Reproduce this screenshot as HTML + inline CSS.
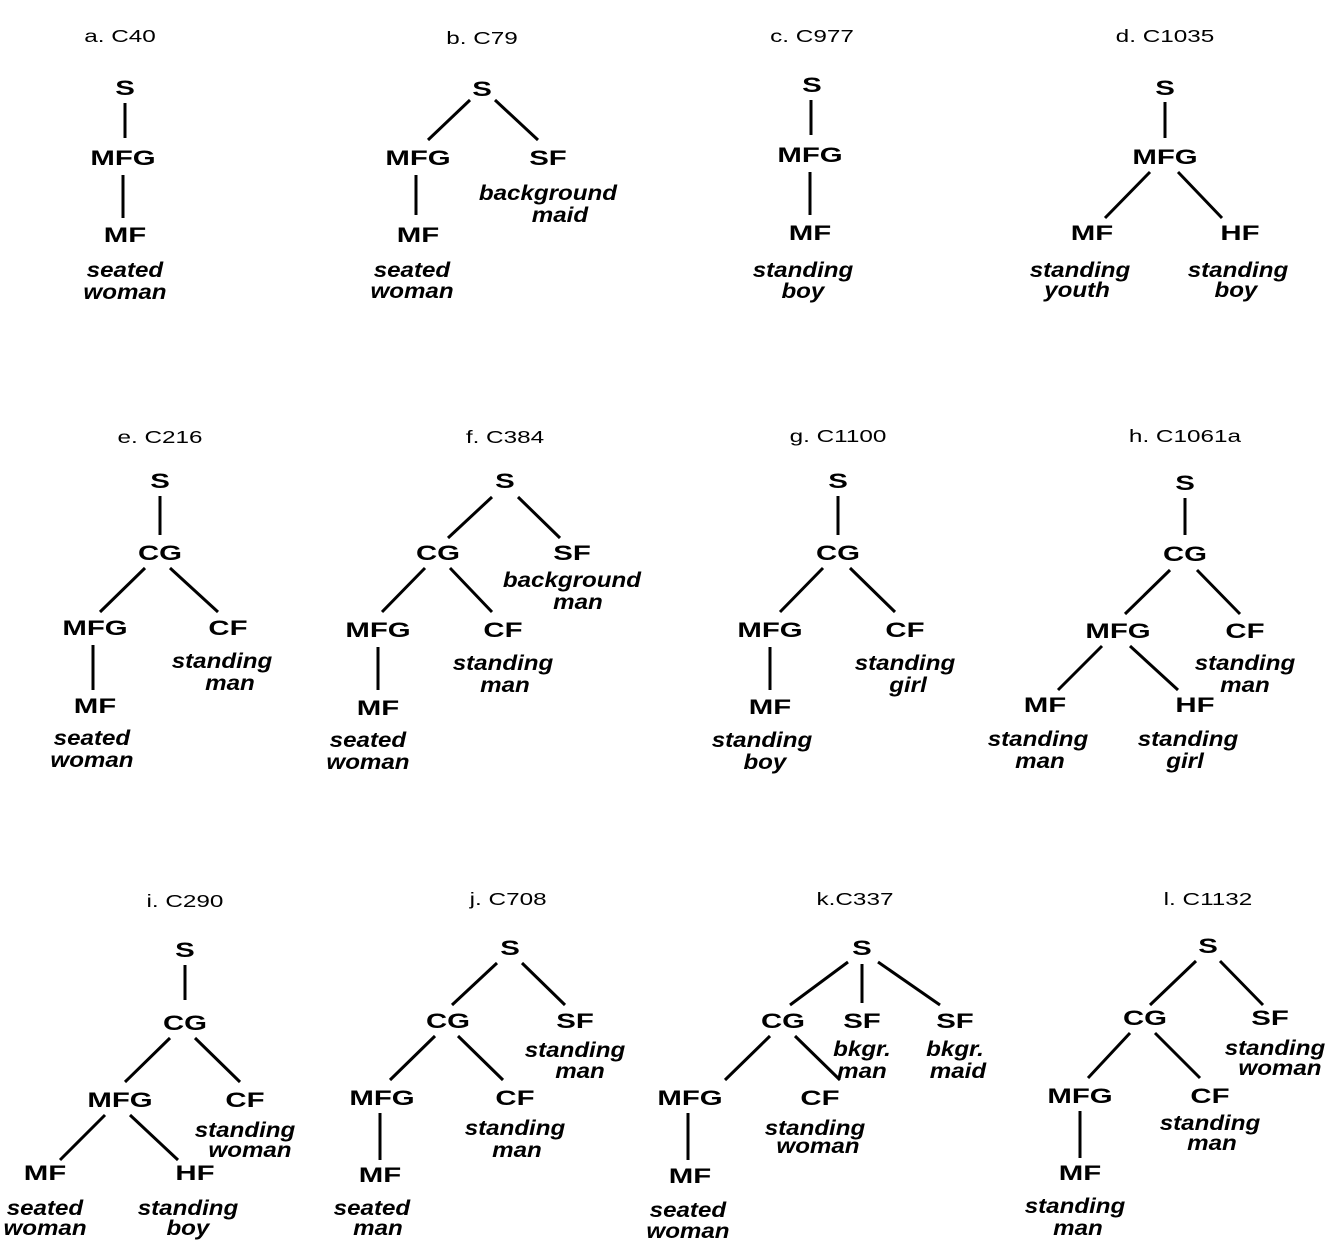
<!DOCTYPE html>
<html><head><meta charset="utf-8"><style>
html,body{margin:0;padding:0;background:#fff}
svg{display:block}
text{transform-box:fill-box;transform-origin:center}
.t{font:18px "Liberation Sans",sans-serif;text-anchor:middle;transform:scaleX(1.35)}
.n{font:bold 21px "Liberation Sans",sans-serif;text-anchor:middle;transform:scaleX(1.4)}
.i{font:italic bold 21px "Liberation Sans",sans-serif;text-anchor:middle;transform:scaleX(1.15)}
line{stroke:#000;stroke-width:3}
</style></head><body>
<svg width="1326" height="1260" viewBox="0 0 1326 1260">
<!-- a -->
<text class="t" x="120" y="42">a. C40</text>
<text class="n" x="125" y="95">S</text><line x1="125" y1="103" x2="125" y2="138"/>
<text class="n" x="123" y="165">MFG</text><line x1="123" y1="175" x2="123" y2="218"/>
<text class="n" x="125" y="242">MF</text>
<text class="i" x="125" y="277">seated</text><text class="i" x="125" y="299">woman</text>
<!-- b -->
<text class="t" x="482" y="44">b. C79</text>
<text class="n" x="482" y="96">S</text>
<line x1="470" y1="100" x2="428" y2="140"/><line x1="495" y1="100" x2="538" y2="140"/>
<text class="n" x="418" y="165">MFG</text><text class="n" x="548" y="165">SF</text>
<text class="i" x="548" y="200">background</text><text class="i" x="560" y="222">maid</text>
<line x1="416" y1="175" x2="416" y2="215"/>
<text class="n" x="418" y="242">MF</text>
<text class="i" x="412" y="277">seated</text><text class="i" x="412" y="298">woman</text>
<!-- c -->
<text class="t" x="812" y="42">c. C977</text>
<text class="n" x="812" y="92">S</text><line x1="811" y1="100" x2="811" y2="135"/>
<text class="n" x="810" y="162">MFG</text><line x1="810" y1="172" x2="810" y2="215"/>
<text class="n" x="810" y="240">MF</text>
<text class="i" x="803" y="277">standing</text><text class="i" x="803" y="298">boy</text>
<!-- d -->
<text class="t" x="1165" y="42">d. C1035</text>
<text class="n" x="1165" y="95">S</text><line x1="1165" y1="102" x2="1165" y2="138"/>
<text class="n" x="1165" y="164">MFG</text>
<line x1="1150" y1="172" x2="1105" y2="218"/><line x1="1178" y1="172" x2="1222" y2="218"/>
<text class="n" x="1092" y="240">MF</text><text class="n" x="1240" y="240">HF</text>
<text class="i" x="1080" y="277">standing</text><text class="i" x="1077" y="297">youth</text>
<text class="i" x="1238" y="277">standing</text><text class="i" x="1236" y="297">boy</text>
<!-- e -->
<text class="t" x="160" y="443">e. C216</text>
<text class="n" x="160" y="488">S</text><line x1="160" y1="496" x2="160" y2="535"/>
<text class="n" x="160" y="560">CG</text>
<line x1="145" y1="568" x2="100" y2="612"/><line x1="170" y1="568" x2="218" y2="612"/>
<text class="n" x="95" y="635">MFG</text><text class="n" x="228" y="635">CF</text>
<text class="i" x="222" y="668">standing</text><text class="i" x="230" y="690">man</text>
<line x1="93" y1="645" x2="93" y2="690"/>
<text class="n" x="95" y="713">MF</text>
<text class="i" x="92" y="745">seated</text><text class="i" x="92" y="767">woman</text>
<!-- f -->
<text class="t" x="505" y="443">f. C384</text>
<text class="n" x="505" y="488">S</text>
<line x1="492" y1="497" x2="448" y2="538"/><line x1="518" y1="497" x2="560" y2="538"/>
<text class="n" x="438" y="560">CG</text><text class="n" x="572" y="560">SF</text>
<text class="i" x="572" y="587">background</text><text class="i" x="578" y="609">man</text>
<line x1="425" y1="568" x2="382" y2="612"/><line x1="450" y1="568" x2="492" y2="612"/>
<text class="n" x="378" y="637">MFG</text><text class="n" x="503" y="637">CF</text>
<text class="i" x="503" y="670">standing</text><text class="i" x="505" y="692">man</text>
<line x1="378" y1="647" x2="378" y2="690"/>
<text class="n" x="378" y="715">MF</text>
<text class="i" x="368" y="747">seated</text><text class="i" x="368" y="769">woman</text>
<!-- g -->
<text class="t" x="838" y="442">g. C1100</text>
<text class="n" x="838" y="488">S</text><line x1="838" y1="496" x2="838" y2="535"/>
<text class="n" x="838" y="560">CG</text>
<line x1="823" y1="568" x2="780" y2="612"/><line x1="850" y1="568" x2="895" y2="612"/>
<text class="n" x="770" y="637">MFG</text><text class="n" x="905" y="637">CF</text>
<text class="i" x="905" y="670">standing</text><text class="i" x="908" y="692">girl</text>
<line x1="770" y1="647" x2="770" y2="690"/>
<text class="n" x="770" y="714">MF</text>
<text class="i" x="762" y="747">standing</text><text class="i" x="765" y="769">boy</text>
<!-- h -->
<text class="t" x="1185" y="442">h. C1061a</text>
<text class="n" x="1185" y="490">S</text><line x1="1185" y1="498" x2="1185" y2="535"/>
<text class="n" x="1185" y="561">CG</text>
<line x1="1170" y1="570" x2="1125" y2="614"/><line x1="1197" y1="570" x2="1240" y2="614"/>
<text class="n" x="1118" y="638">MFG</text><text class="n" x="1245" y="638">CF</text>
<text class="i" x="1245" y="670">standing</text><text class="i" x="1245" y="692">man</text>
<line x1="1102" y1="646" x2="1058" y2="690"/><line x1="1130" y1="646" x2="1178" y2="690"/>
<text class="n" x="1045" y="712">MF</text><text class="n" x="1195" y="712">HF</text>
<text class="i" x="1038" y="746">standing</text><text class="i" x="1040" y="768">man</text>
<text class="i" x="1188" y="746">standing</text><text class="i" x="1185" y="768">girl</text>
<!-- i -->
<text class="t" x="185" y="907">i. C290</text>
<text class="n" x="185" y="957">S</text><line x1="185" y1="965" x2="185" y2="1000"/>
<text class="n" x="185" y="1030">CG</text>
<line x1="170" y1="1038" x2="125" y2="1082"/><line x1="195" y1="1038" x2="240" y2="1082"/>
<text class="n" x="120" y="1107">MFG</text><text class="n" x="245" y="1107">CF</text>
<text class="i" x="245" y="1137">standing</text><text class="i" x="250" y="1157">woman</text>
<line x1="105" y1="1115" x2="60" y2="1160"/><line x1="130" y1="1115" x2="178" y2="1160"/>
<text class="n" x="45" y="1180">MF</text><text class="n" x="195" y="1180">HF</text>
<text class="i" x="45" y="1215">seated</text><text class="i" x="45" y="1235">woman</text>
<text class="i" x="188" y="1215">standing</text><text class="i" x="188" y="1235">boy</text>
<!-- j -->
<text class="t" x="508" y="905">j. C708</text>
<text class="n" x="510" y="955">S</text>
<line x1="497" y1="963" x2="452" y2="1005"/><line x1="522" y1="963" x2="565" y2="1005"/>
<text class="n" x="448" y="1028">CG</text><text class="n" x="575" y="1028">SF</text>
<text class="i" x="575" y="1057">standing</text><text class="i" x="580" y="1078">man</text>
<line x1="435" y1="1036" x2="390" y2="1080"/><line x1="458" y1="1036" x2="503" y2="1080"/>
<text class="n" x="382" y="1105">MFG</text><text class="n" x="515" y="1105">CF</text>
<text class="i" x="515" y="1135">standing</text><text class="i" x="517" y="1157">man</text>
<line x1="380" y1="1113" x2="380" y2="1160"/>
<text class="n" x="380" y="1182">MF</text>
<text class="i" x="372" y="1215">seated</text><text class="i" x="378" y="1235">man</text>
<!-- k -->
<text class="t" x="855" y="905">k.C337</text>
<text class="n" x="862" y="955">S</text>
<line x1="848" y1="962" x2="790" y2="1005"/><line x1="862" y1="964" x2="862" y2="1003"/><line x1="878" y1="962" x2="940" y2="1005"/>
<text class="n" x="783" y="1028">CG</text><text class="n" x="862" y="1028">SF</text><text class="n" x="955" y="1028">SF</text>
<text class="i" x="862" y="1056">bkgr.</text><text class="i" x="862" y="1078">man</text>
<text class="i" x="955" y="1056">bkgr.</text><text class="i" x="958" y="1078">maid</text>
<line x1="770" y1="1036" x2="725" y2="1080"/><line x1="795" y1="1036" x2="840" y2="1080"/>
<text class="n" x="690" y="1105">MFG</text><text class="n" x="820" y="1105">CF</text>
<text class="i" x="815" y="1135">standing</text><text class="i" x="818" y="1153">woman</text>
<line x1="688" y1="1113" x2="688" y2="1160"/>
<text class="n" x="690" y="1183">MF</text>
<text class="i" x="688" y="1217">seated</text><text class="i" x="688" y="1238">woman</text>
<!-- l -->
<text class="t" x="1208" y="905">l. C1132</text>
<text class="n" x="1208" y="953">S</text>
<line x1="1196" y1="961" x2="1150" y2="1005"/><line x1="1220" y1="961" x2="1263" y2="1005"/>
<text class="n" x="1145" y="1025">CG</text><text class="n" x="1270" y="1025">SF</text>
<text class="i" x="1275" y="1055">standing</text><text class="i" x="1280" y="1075">woman</text>
<line x1="1130" y1="1033" x2="1088" y2="1078"/><line x1="1155" y1="1033" x2="1200" y2="1078"/>
<text class="n" x="1080" y="1103">MFG</text><text class="n" x="1210" y="1103">CF</text>
<text class="i" x="1210" y="1130">standing</text><text class="i" x="1212" y="1150">man</text>
<line x1="1080" y1="1111" x2="1080" y2="1158"/>
<text class="n" x="1080" y="1180">MF</text>
<text class="i" x="1075" y="1213">standing</text><text class="i" x="1078" y="1235">man</text>
</svg>
</body></html>
